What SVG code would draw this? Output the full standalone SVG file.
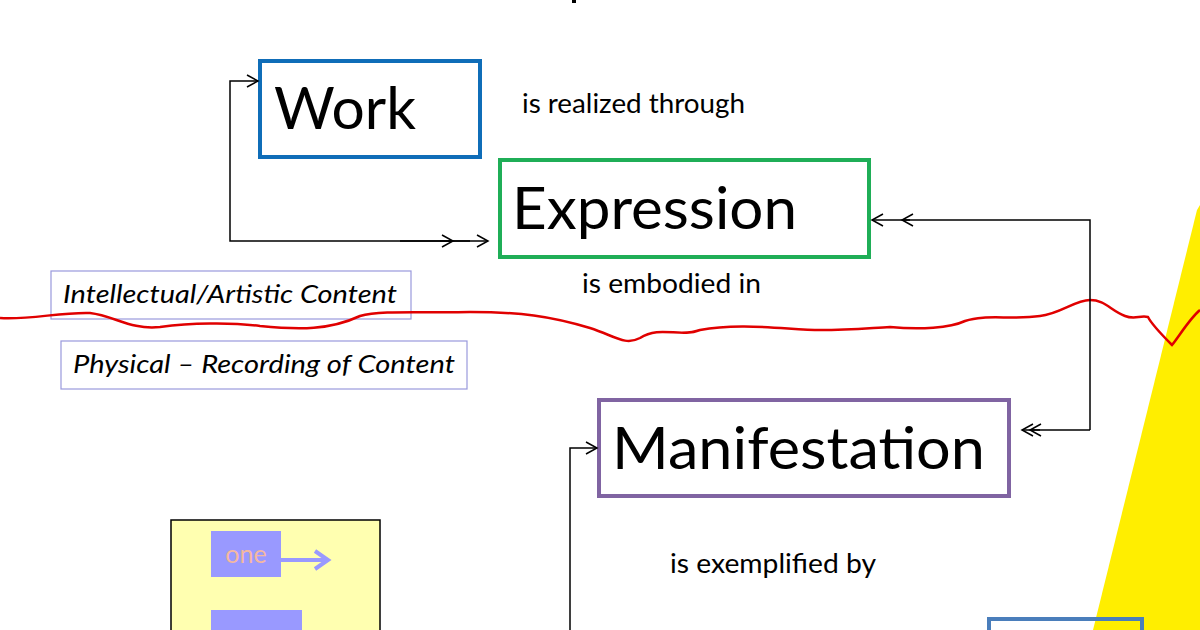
<svg xmlns="http://www.w3.org/2000/svg" width="1200" height="630" viewBox="0 0 1200 630">
<defs>
<style>
.big{font-family:Lato,"Open Sans",sans-serif;font-size:59px;fill:#000}
.lbl{font-family:Lato,"Open Sans",sans-serif;font-size:26px;fill:#000}
.it{font-family:Lato,"Open Sans",sans-serif;font-size:26px;font-style:italic;fill:#000}
.c{fill:none;stroke:#000;stroke-width:1.5}
</style>
<marker id="ar" markerWidth="14" markerHeight="14" refX="12" refY="7" orient="auto" markerUnits="userSpaceOnUse"><path d="M1,1 L12,7 L1,13" fill="none" stroke="#000" stroke-width="1.5"/></marker>
</defs>
<rect width="1200" height="630" fill="#fff"/>
<polygon points="1197,210 1200,205 1200,630 1093,630" fill="#ffee00"/>
<rect x="572" y="0" width="4" height="3" fill="#000"/>
<g id="work"><rect x="260" y="61" width="220" height="96" fill="none" stroke="#0f6db8" stroke-width="4"/><text x="274" y="129" class="big" textLength="142" lengthAdjust="spacingAndGlyphs">Work</text></g>
<g id="expression"><rect x="500" y="160" width="369" height="97" fill="none" stroke="#1fae57" stroke-width="4"/><text x="512" y="229" class="big" textLength="285" lengthAdjust="spacingAndGlyphs">Expression</text></g>
<g id="manifestation"><rect x="599" y="400" width="410" height="96" fill="none" stroke="#8064a2" stroke-width="4"/><text x="612" y="469" class="big" textLength="373" lengthAdjust="spacingAndGlyphs">Manifestation</text></g>
<g id="item"><rect x="989" y="619" width="153" height="20" fill="none" stroke="#4a7ebb" stroke-width="4"/></g>
<g id="legend"><rect x="171" y="520" width="209" height="120" fill="#ffffb0" stroke="#000" stroke-width="1.5"/>
<rect x="211" y="531" width="70" height="46" fill="#9999ff"/><text x="246" y="563" text-anchor="middle" style="font-family:Lato,'Open Sans',sans-serif;font-size:25px;fill:#f4b8a0">one</text>
<path d="M281,560 L327,560 M315,551 L328,560 L315,569" fill="none" stroke="#9999ff" stroke-width="4"/>
<rect x="211" y="610" width="91" height="30" fill="#9999ff"/></g>
<g id="lab1"><rect x="51" y="271" width="360" height="48" fill="#fff" stroke="#9999dd" stroke-width="1.2"/><text x="63" y="303" class="it" textLength="334" lengthAdjust="spacingAndGlyphs">Intellectual/Artistic Content</text></g>
<g id="lab2"><rect x="61" y="341" width="406" height="48" fill="#fff" stroke="#9999dd" stroke-width="1.2"/><text x="73" y="373" class="it" textLength="382" lengthAdjust="spacingAndGlyphs">Physical – Recording of Content</text></g>
<text x="522" y="113" class="lbl" textLength="223" lengthAdjust="spacingAndGlyphs">is realized through</text>
<text x="582" y="293" class="lbl" textLength="179" lengthAdjust="spacingAndGlyphs">is embodied in</text>
<text x="670" y="573" class="lbl" textLength="206" lengthAdjust="spacingAndGlyphs">is exemplified by</text>
<path d="M0,318 C30,320 60,312 90,313 C115,316 130,330 160,327 C190,323 230,322 260,326 C300,330 330,330 360,316 C380,310 420,313 470,312 C520,312 550,316 590,328 C615,336 625,346 640,338 C660,325 680,338 700,330 C740,322 790,330 820,330 C850,330 870,328 890,327 C920,330 950,328 965,321 C985,314 1010,320 1040,316 C1060,314 1075,300 1090,300 C1105,300 1110,310 1125,316 C1135,320 1140,315 1148,317 C1152,325 1162,335 1172,345 C1180,335 1190,318 1200,310" fill="none" stroke="#e00000" stroke-width="2.5"/>
<g id="connectors">
<path class="c" d="M470,241 L230,241 L230,81 L258,81" marker-end="url(#ar)"/>
<path class="c" d="M400,241 L488,241" marker-end="url(#ar)"/>
<path class="c" d="M440,241 L453,241" marker-end="url(#ar)"/>
<path class="c" d="M1090,430 L1090,220 L872,220" marker-end="url(#ar)"/>
<path class="c" d="M910,220 L902,220" marker-end="url(#ar)"/>
<path class="c" d="M1090,430 L1022,430" marker-end="url(#ar)"/>
<path class="c" d="M1040,430 L1030,430" marker-end="url(#ar)"/>
<path class="c" d="M570,630 L570,448 L597,448" marker-end="url(#ar)"/>
</g>
</svg>
